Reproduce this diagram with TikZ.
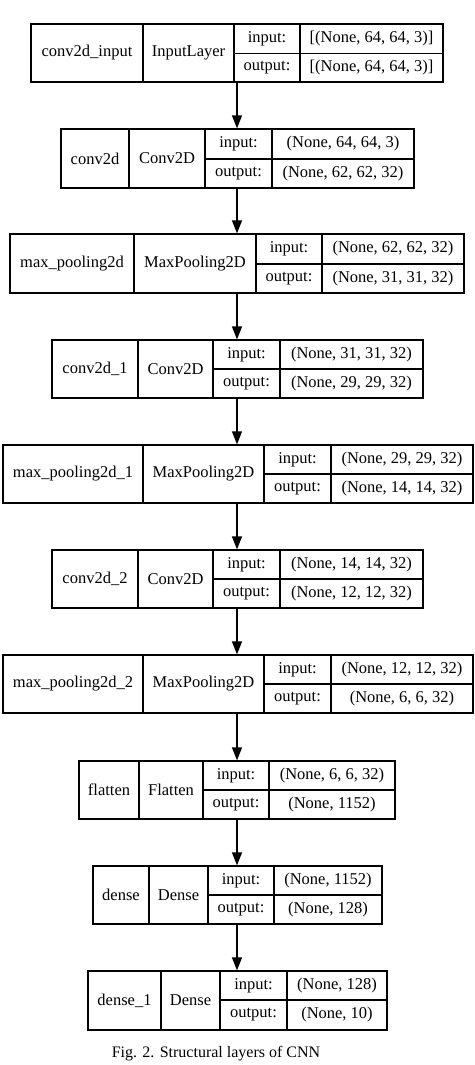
\documentclass[tikz,border=0pt]{standalone}
\usepackage{fontspec}
\setmainfont{Liberation Serif}
\usetikzlibrary{arrows.meta}
\begin{document}
\begin{tikzpicture}[x=1pt,y=-1pt,
  cell/.style={draw,line width=1.3pt,inner sep=0pt,font=\fontsize{16.5}{18}\selectfont},
  outer/.style={draw,line width=1.3pt,inner sep=0pt},
  arr/.style={-{Triangle[length=13pt,width=10pt]},line width=1.3pt},
  captext/.style={font=\fontsize{16}{18}\selectfont}]
\useasboundingbox (0,0) rectangle (474,1065);
\coordinate (ax) at (237,0);
\foreach \id/\xa/\xb/\xc/\xd/\xe/\ya/\ym/\yb/\nm/\ty/\vin/\vout in {
 1/31/143/234/300/443/24/53.5/82/conv2d\_input/InputLayer/{[(None, 64, 64, 3)]}/{[(None, 64, 64, 3)]},
 2/61/129/205/272/414/129/159/188/conv2d/Conv2D/{(None, 64, 64, 3)}/{(None, 62, 62, 32)},
 3/10/134/256/322/464/234/264/293/max\_pooling2d/MaxPooling2D/{(None, 62, 62, 32)}/{(None, 31, 31, 32)},
 4/52/138/213/280/423/340/369/398/conv2d\_1/Conv2D/{(None, 31, 31, 32)}/{(None, 29, 29, 32)},
 5/3/143/264/331/473/445/474/503/max\_pooling2d\_1/MaxPooling2D/{(None, 29, 29, 32)}/{(None, 14, 14, 32)},
 6/52/138/213/280/423/550/579/608/conv2d\_2/Conv2D/{(None, 14, 14, 32)}/{(None, 12, 12, 32)},
 7/3/143/264/331/473/655/684/713/max\_pooling2d\_2/MaxPooling2D/{(None, 12, 12, 32)}/{(None, 6, 6, 32)},
 8/79/139/203/269/395/761/790/819/flatten/Flatten/{(None, 6, 6, 32)}/{(None, 1152)},
 9/93/149/208/274/382/866/895/924/dense/Dense/{(None, 1152)}/{(None, 128)},
 10/88/161/220/287/387/971/1000/1030/dense\_1/Dense/{(None, 128)}/{(None, 10)}}{
 \node[outer,minimum width={(\xe-\xa)*1pt},minimum height={(\yb-\ya)*1pt}] (L\id) at ({(\xa+\xe)/2},{(\ya+\yb)/2}) {};
 \node[cell,minimum width={(\xb-\xa)*1pt},minimum height={(\yb-\ya)*1pt}] (N\id) at ({(\xa+\xb)/2},{(\ya+\yb)/2}) {\nm};
 \node[cell,minimum width={(\xc-\xb)*1pt},minimum height={(\yb-\ya)*1pt}] (T\id) at ({(\xb+\xc)/2},{(\ya+\yb)/2}) {\ty};
 \node[cell,minimum width={(\xd-\xc)*1pt},minimum height={(\ym-\ya)*1pt}] (IL\id) at ({(\xc+\xd)/2},{(\ya+\ym)/2}) {input:};
 \node[cell,minimum width={(\xd-\xc)*1pt},minimum height={(\yb-\ym)*1pt}] (OL\id) at ({(\xc+\xd)/2},{(\ym+\yb)/2}) {output:};
 \node[cell,minimum width={(\xe-\xd)*1pt},minimum height={(\ym-\ya)*1pt}] (IV\id) at ({(\xd+\xe)/2},{(\ya+\ym)/2}) {\vin};
 \node[cell,minimum width={(\xe-\xd)*1pt},minimum height={(\yb-\ym)*1pt}] (OV\id) at ({(\xd+\xe)/2},{(\ym+\yb)/2}) {\vout};
}
\foreach \i [evaluate=\i as \j using int(\i+1)] in {1,...,9}{
 \draw[arr] (L\i.south -| ax) -- (L\j.north -| ax);
}
\node[captext] (cap) at (216,1054) {Fig. 2. Structural layers of CNN};
\end{tikzpicture}
\end{document}
